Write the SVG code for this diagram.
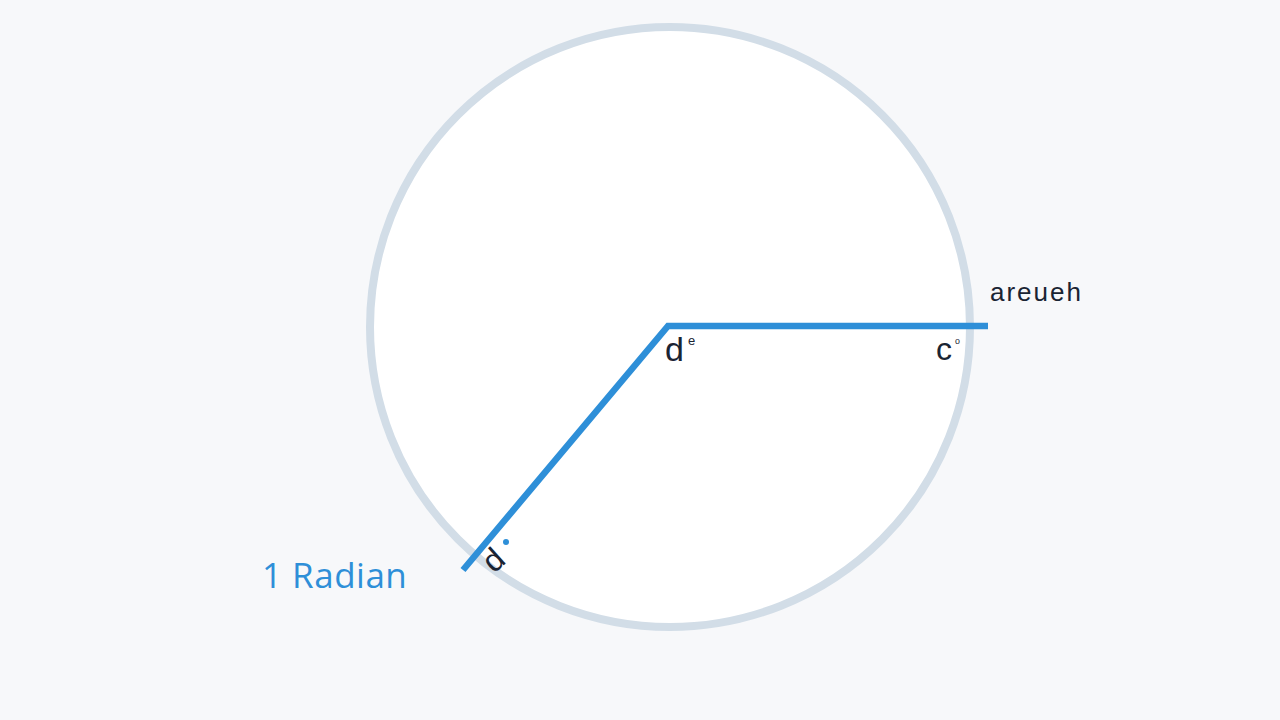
<svg xmlns="http://www.w3.org/2000/svg" width="1280" height="720" viewBox="0 0 1280 720">
<style>
.lbl{font-family:"Liberation Sans",Arial,sans-serif;fill:#1a2433}
.sup{font-family:"Liberation Sans",Arial,sans-serif;fill:#1a2433;font-size:13px}
.blue{font-family:"Open Sans","Liberation Sans",sans-serif;fill:#2e8fd8}
.ray{fill:none;stroke:#2e8fd8;stroke-width:6.5;stroke-linejoin:miter}
</style>
<rect width="1280" height="720" fill="#f7f8fa"/>
<g id="circle">
<circle cx="670" cy="327" r="300" fill="#ffffff" stroke="#d2dde7" stroke-width="8"/>
</g>
<g id="connectors">
<polyline class="ray" points="463,570 668,326 988,326"/>
</g>
<g id="center-label">
<text class="lbl" x="665" y="361" font-size="34">d</text>
<text class="sup" x="688" y="345">e</text>
</g>
<g id="edge-label">
<text class="lbl" x="936" y="360" font-size="32">c</text>
<text class="sup" x="955" y="347">ᵒ</text>
</g>
<g id="bottom-label">
<text class="lbl" x="0" y="0" font-size="32" transform="translate(494,574) rotate(-42)">d</text>
<circle cx="506" cy="542" r="3" fill="#2e8fd8"/>
</g>
<g id="arc-label">
<text class="lbl" x="990" y="301" font-size="26" letter-spacing="2">areueh</text>
</g>
<g id="radian-label">
<text class="blue" x="262" y="588" font-size="35" letter-spacing="0.5">1 Radian</text>
</g>
</svg>
